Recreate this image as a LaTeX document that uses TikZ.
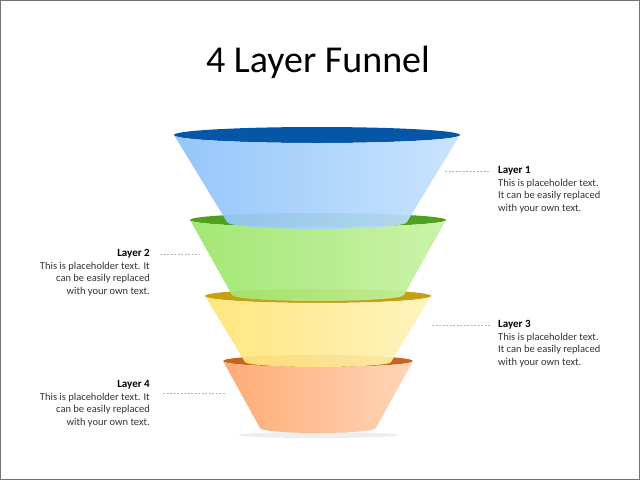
\documentclass[tikz,border=0pt]{standalone}
\usepackage{fontspec}
\setmainfont{Carlito}
\definecolor{bL}{HTML}{8CC2FA}\definecolor{bR}{HTML}{C6E2FD}\definecolor{bD}{HTML}{0656A8}
\definecolor{gL}{HTML}{9CE56A}\definecolor{gR}{HTML}{C8F2A2}\definecolor{gD}{HTML}{4EA01E}
\definecolor{yL}{HTML}{FFE474}\definecolor{yR}{HTML}{FFF3BA}\definecolor{yD}{HTML}{C4A012}
\definecolor{oL}{HTML}{FFA46C}\definecolor{oR}{HTML}{FFD2B2}\definecolor{oD}{HTML}{C8641E}
\begin{document}
\begin{tikzpicture}[x=1pt,y=-1pt,
  lbl/.style={font=\fontsize{10.5}{12.3}\selectfont, text=black!80, inner sep=0pt},
  ttl/.style={font=\bfseries\fontsize{11}{12}\selectfont, inner sep=0pt},
  lead/.style={draw=black!30, dashed, dash pattern=on 2pt off 1.5pt, line width=0.5pt}]
\useasboundingbox (0,0) rectangle (640,480);
\draw[black!55,line width=1pt] (0.5,0.5) rectangle (639.5,479.5);
\node[font=\fontsize{38}{42}\selectfont] (title) at (318,62) {4 Layer Funnel};
\fill[black!7] (318,435) ellipse [x radius=80, y radius=3];
\def\layer#1#2#3#4#5#6#7#8#9{%
  \fill[#8] (#1,#2) ellipse [x radius=#3, y radius=#4];
  \shade[left color=#9L, right color=#9R, opacity=0.93]
    (#1-#3,#2) -- (#1-#6,#5) arc[start angle=180,end angle=0,x radius=#6,y radius=#7]
    -- (#1+#3,#2) arc[start angle=0,end angle=180,x radius=#3,y radius=#4] -- cycle;}
\layer{318}{361}{95}{6}{428}{58}{5}{oD}{o}
\layer{318}{296}{113}{7}{362}{73}{5}{yD}{y}
\layer{318}{220}{128}{7}{295}{86}{6}{gD}{g}
\layer{317}{135}{143}{8}{222}{90}{7}{bD}{b}
\coordinate (l1a) at (445,171); \coordinate (l1b) at (490,171);
\coordinate (l2a) at (160,254); \coordinate (l2b) at (200,254);
\coordinate (l3a) at (432,325); \coordinate (l3b) at (490,325);
\coordinate (l4a) at (163,393); \coordinate (l4b) at (225,393);
\draw[lead] (l1a) -- (l1b); \draw[lead] (l2a) -- (l2b);
\draw[lead] (l3a) -- (l3b); \draw[lead] (l4a) -- (l4b);
\node[ttl,anchor=west] (t1) at (498,171) {Layer 1};
\node[lbl,anchor=north west,align=left] (d1) at (498,179) {This is placeholder text.\\It can be easily replaced\\with your own text.};
\node[ttl,anchor=east] (t2) at (150,254) {Layer 2};
\node[lbl,anchor=north east,align=right] (d2) at (150,262) {This is placeholder text. It\\can be easily replaced\\with your own text.};
\node[ttl,anchor=west] (t3) at (498,325) {Layer 3};
\node[lbl,anchor=north west,align=left] (d3) at (498,333) {This is placeholder text.\\It can be easily replaced\\with your own text.};
\node[ttl,anchor=east] (t4) at (150,385) {Layer 4};
\node[lbl,anchor=north east,align=right] (d4) at (150,393) {This is placeholder text. It\\can be easily replaced\\with your own text.};
\end{tikzpicture}
\end{document}
